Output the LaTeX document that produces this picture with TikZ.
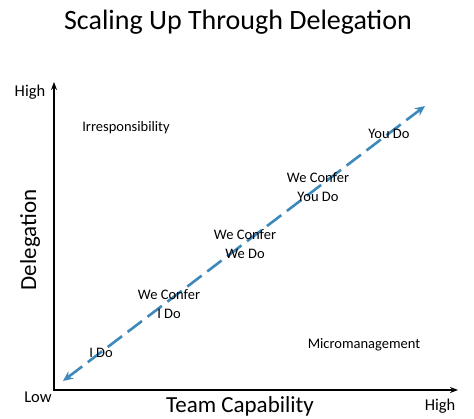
\documentclass[tikz,border=0pt]{standalone}
\usepackage{fontspec}
\setmainfont{Carlito}
\usetikzlibrary{arrows.meta}

\definecolor{stepblue}{RGB}{62,137,188}

\tikzset{
  axis/.style={line width=2.4pt,{Stealth[length=8pt,width=6pt]}-{Stealth[length=8pt,width=6pt]}},
  path arrow/.style={line width=2.6pt,stepblue,dash pattern=on 18pt off 7pt,
    {Stealth[length=10pt,width=9pt]}-{Stealth[length=10pt,width=9pt]}},
  stage/.style={align=center,font=\fontsize{14.5}{18.5}\selectfont,inner sep=1pt},
  scale label/.style={font=\fontsize{16.5}{19}\selectfont,inner sep=1pt},
  axis label/.style={font=\fontsize{23}{27}\selectfont,inner sep=1pt},
}

\begin{document}
\begin{tikzpicture}[x=1pt,y=-1pt]
\useasboundingbox (0,0) rectangle (474,419);

\node (title) at (238,22) {\fontsize{28}{32}\selectfont Scaling Up Through Delegation};

% axes
\coordinate (ytop) at (54,82);
\coordinate (origin) at (54,390);
\coordinate (xend) at (458,390);
\draw[axis] (ytop) -- (origin) -- (xend);

\node[scale label] (yhigh) at (30,92) {High};
\node[scale label] (low) at (38,397) {Low};
\node[scale label] (xhigh) at (440,406) {High};
\node[axis label,rotate=90] (ylabel) at (30,240) {Delegation};
\node[axis label] (xlabel) at (240,406) {Team Capability};

% path of delegation
\coordinate (pstart) at (425,106);
\coordinate (pend) at (63,381);
\draw[path arrow] (pend) -- (pstart);

% stages
\node[stage] (youdo) at (389,134) {You Do};
\node[stage] (confyou) at (318,187) {We Confer\\You Do};
\node[stage] (confwe) at (245,244) {We Confer\\We Do};
\node[stage] (confi) at (169,304) {We Confer\\I Do};
\node[stage] (ido) at (101,353) {I Do};

% corners
\node[stage] (irresp) at (126,128) {Irresponsibility};
\node[stage] (micro) at (364,345) {Micromanagement};

\end{tikzpicture}
\end{document}
